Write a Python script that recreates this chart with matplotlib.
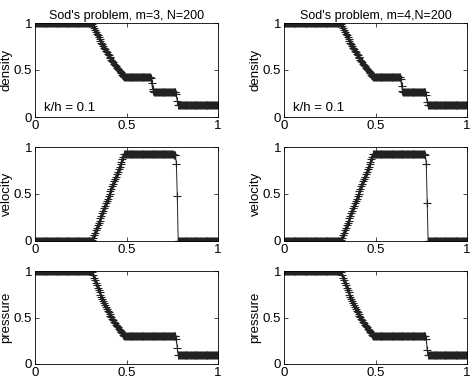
import numpy as np
import matplotlib
matplotlib.use("Agg")
import matplotlib.pyplot as plt

plt.rcParams['font.family'] = ['Liberation Sans', 'DejaVu Sans']

N = 200
x = (np.arange(N) + 0.5) / N

# rarefaction fan values (36 cells)
rare_rho = [0.992, 0.970, 0.949, 0.928, 0.908, 0.887, 0.868, 0.848, 0.829, 0.810,
            0.792, 0.774, 0.756, 0.739, 0.721, 0.705, 0.688, 0.672, 0.656, 0.641,
            0.625, 0.610, 0.596, 0.581, 0.567, 0.553, 0.540, 0.526, 0.513, 0.501,
            0.488, 0.476, 0.464, 0.452, 0.440, 0.429]
rare_u = [0.009, 0.035, 0.062, 0.088, 0.114, 0.140, 0.166, 0.192, 0.218, 0.244,
          0.270, 0.296, 0.322, 0.348, 0.374, 0.400, 0.426, 0.452, 0.478, 0.504,
          0.530, 0.556, 0.582, 0.608, 0.634, 0.660, 0.686, 0.713, 0.739, 0.765,
          0.791, 0.817, 0.843, 0.869, 0.895, 0.921]
rare_p = [0.989, 0.959, 0.929, 0.901, 0.873, 0.846, 0.820, 0.794, 0.769, 0.745,
          0.721, 0.698, 0.676, 0.654, 0.633, 0.613, 0.593, 0.573, 0.554, 0.536,
          0.518, 0.501, 0.484, 0.468, 0.452, 0.437, 0.422, 0.407, 0.393, 0.380,
          0.366, 0.354, 0.341, 0.329, 0.317, 0.306]

# m = 3
rho_m3 = ([1.0] * 62 + rare_rho + [0.427] * 28 + [0.41, 0.36, 0.30, 0.275]
          + [0.2656] * 24 + [0.24, 0.17] + [0.125] * 44)
u_m3 = ([0.0] * 62 + rare_u + [0.927] * 52 + [0.925, 0.92, 0.915, 0.91]
        + [0.82, 0.48] + [0.0] * 44)
p_m3 = ([1.0] * 62 + rare_p + [0.303] * 56 + [0.27, 0.17] + [0.1] * 44)

# m = 4
rho_m4 = ([1.0] * 62 + rare_rho + [0.427] * 29 + [0.40, 0.33, 0.28]
          + [0.2656] * 25 + [0.23, 0.16] + [0.125] * 43)
u_m4 = ([0.0] * 62 + rare_u + [0.927] * 53 + [0.926, 0.925, 0.924, 0.92]
        + [0.82, 0.40] + [0.0] * 43)
p_m4 = ([1.0] * 62 + rare_p + [0.303] * 57 + [0.27, 0.15] + [0.1] * 43)

titles = ["Sod's problem, m=3, N=200", "Sod's problem, m=4,N=200"]
ylabels = ["density", "velocity", "pressure"]
cols = [[rho_m3, u_m3, p_m3], [rho_m4, u_m4, p_m4]]
ticks = [0, 0.5, 1]
ticklabels = ["0", "0.5", "1"]

W, H = 474, 381
fig = plt.figure(figsize=(W / 100, H / 100), dpi=100)
lefts = [35, 284]
rows = [(23, 117), (147, 241), (271, 364)]
fs = 9.5

for c in range(2):
    for r in range(3):
        top, bot = rows[r]
        ax = fig.add_axes([lefts[c] / W, 1 - bot / H, 183 / W, (bot - top) / H])
        ax.plot(x, cols[c][r], color='#222222', lw=0.7, marker='+', ms=6, mew=0.8)
        ax.set_xlim(0, 1)
        ax.set_ylim(0, 1)
        ax.set_xticks(ticks)
        ax.set_xticklabels(ticklabels)
        ax.set_yticks(ticks)
        ax.set_yticklabels(ticklabels)
        ax.tick_params(direction='in', top=True, right=True, length=3,
                       width=0.5, labelsize=fs, pad=2)
        for s in ax.spines.values():
            s.set_linewidth(0.6)
        ax.set_ylabel(ylabels[r], fontsize=fs, labelpad=1)
        if r == 0:
            ax.set_title(titles[c], fontsize=9, pad=3)
            ax.text(0.05, 0.1, "k/h = 0.1", fontsize=fs, va='center', ha='left')

fig.savefig("out.png", dpi=100)
